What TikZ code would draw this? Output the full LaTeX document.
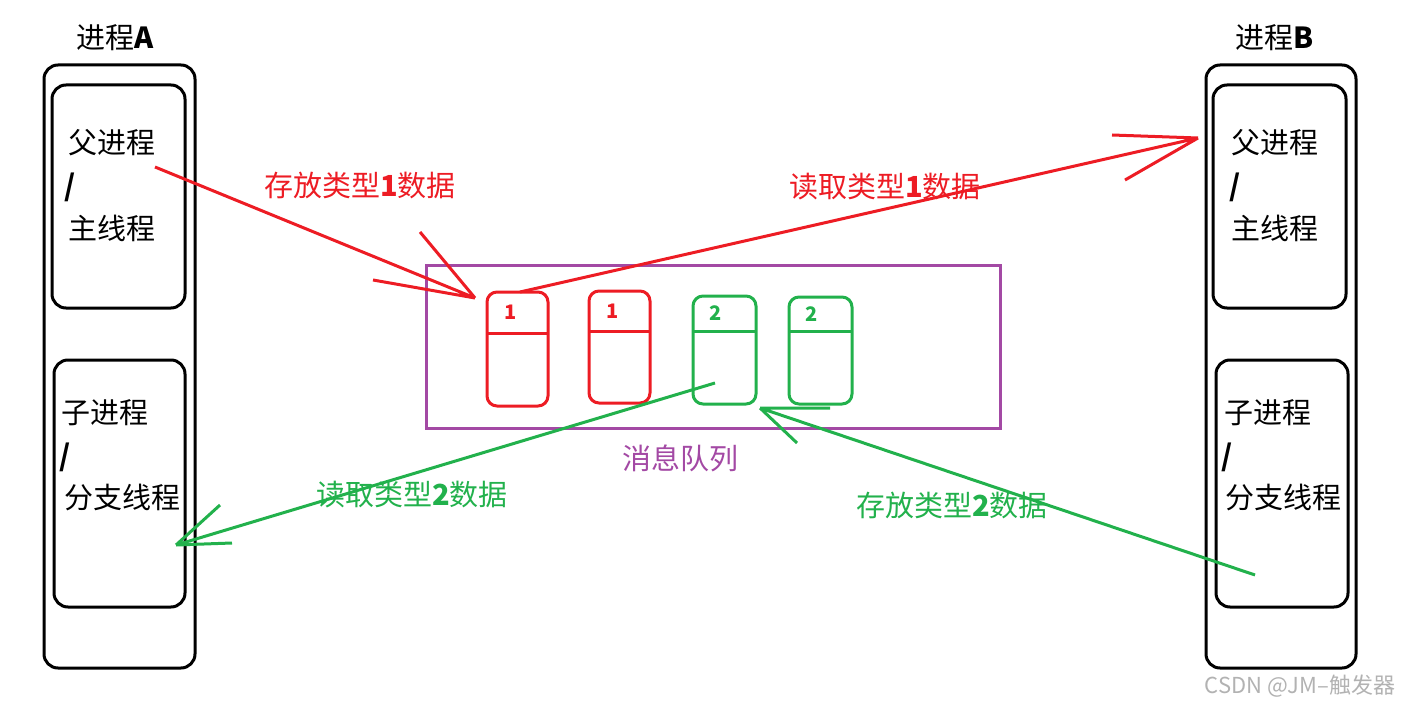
\documentclass[tikz,border=0pt]{standalone}
\usepackage{fontspec}
\setmainfont{Noto Sans CJK SC}
\begin{document}
\begin{tikzpicture}[x=1pt,y=-1pt,
  box/.style={draw=black,line width=3pt,rounded corners=14pt},
  t/.style={font=\fontsize{29}{30}\selectfont,inner sep=0pt},
  red/.style={draw={rgb,255:red,237;green,28;blue,36},line width=3pt},
  grn/.style={draw={rgb,255:red,34;green,177;blue,76},line width=3pt},
  pill/.style={line width=3pt,rounded corners=10pt}]
\definecolor{R}{RGB}{237,28,36}\definecolor{G}{RGB}{34,177,76}\definecolor{P}{RGB}{163,73,164}
\useasboundingbox (0,0) rectangle (1423,711);
% Process A
\node[t] (ta) at (115,38) {进程\textbf{A}};
\draw[box] (44,65) rectangle (195,668);
\draw[box] (52,85) rectangle (185,308);
\draw[box] (54,360) rectangle (185,607);
\node[t] (a1) at (112,143) {父进程};
\node[t] (a2) at (70,187) {\textbf{/}};
\node[t] (a3) at (112,228) {主线程};
\node[t] (a4) at (105,413) {子进程};
\node[t] (a5) at (65,457) {\textbf{/}};
\node[t] (a6) at (122,497) {分支线程};
% Process B
\node[t] (tb) at (1275,38) {进程\textbf{B}};
\draw[box] (1206,65) rectangle (1356,668);
\draw[box] (1213,85) rectangle (1346,308);
\draw[box] (1216,360) rectangle (1348,607);
\node[t] (b1) at (1275,143) {父进程};
\node[t] (b2) at (1235,187) {\textbf{/}};
\node[t] (b3) at (1275,228) {主线程};
\node[t] (b4) at (1268,413) {子进程};
\node[t] (b5) at (1227,457) {\textbf{/}};
\node[t] (b6) at (1283,497) {分支线程};
% queue
\draw[P,line width=3pt] (426,265) rectangle (1000,428);
\node[t,text=P] (q) at (680,458) {消息队列};
\draw[pill,draw=R] (487,292) rectangle (548,406); \draw[R,line width=3pt] (487,333)--(548,333);
\node[t,text=R,font=\bfseries\fontsize{20}{20}\selectfont] (p1) at (511,312) {1};
\draw[pill,draw=R] (589,291) rectangle (650,403); \draw[R,line width=3pt] (589,331)--(650,331);
\node[t,text=R,font=\bfseries\fontsize{20}{20}\selectfont] (p2) at (613,311) {1};
\draw[pill,draw=G] (693,296) rectangle (756,404); \draw[G,line width=3pt] (693,331)--(756,331);
\node[t,text=G,font=\bfseries\fontsize{20}{20}\selectfont] (p3) at (716,313) {2};
\draw[pill,draw=G] (789,297) rectangle (852,404); \draw[G,line width=3pt] (789,331)--(852,331);
\node[t,text=G,font=\bfseries\fontsize{20}{20}\selectfont] (p4) at (812,314) {2};
% arrows
\coordinate (r1s) at (155,167); \coordinate (r1e) at (475,298);
\draw[red] (r1s)--(r1e) (420,232)--(r1e) (373,280)--(r1e);
\node[t,text=R] (l1) at (360,185) {存放类型\textbf{1}数据};
\coordinate (r2s) at (520,292); \coordinate (r2e) at (1198,138);
\draw[red] (r2s)--(r2e) (1112,135)--(r2e) (1125,180)--(r2e);
\node[t,text=R] (l2) at (885,187) {读取类型\textbf{1}数据};
\coordinate (g1s) at (715,383); \coordinate (g1e) at (176,545);
\draw[grn] (g1s)--(g1e) (220,505)--(g1e) (232,543)--(g1e);
\node[t,text=G] (l3) at (412,495) {读取类型\textbf{2}数据};
\coordinate (g2s) at (1255,575); \coordinate (g2e) at (760,408);
\draw[grn] (g2s)--(g2e) (830,408)--(g2e) (797,443)--(g2e);
\node[t,text=G] (l4) at (952,505) {存放类型\textbf{2}数据};
\node[t,text=gray!60,font=\fontsize{22}{22}\selectfont] (wm) at (1300,686) {CSDN @JM--触发器};
\end{tikzpicture}
\end{document}
